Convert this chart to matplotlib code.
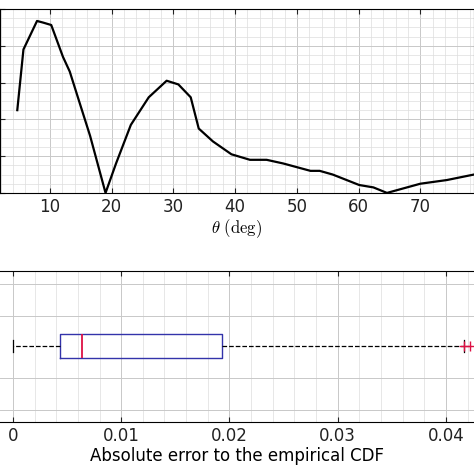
import numpy as np
import matplotlib
matplotlib.use("Agg")
import matplotlib.pyplot as plt
from matplotlib.ticker import MultipleLocator

plt.rcParams['mathtext.fontset'] = 'cm'

# top curve, normalised error vs theta
theta = [4.7, 5.7, 7.9, 8.9, 10.2, 12.1, 13.2, 14.8, 16.5, 19.0, 20.7, 23.1, 26.0,
         28.9, 30.8, 32.8, 34.1, 36.4, 39.4, 42.4, 45.1, 47.8, 52.2, 53.7, 55.8,
         60.1, 62.4, 64.6, 70.0, 74.3, 78.7]
err = [0.45, 0.78, 0.935, 0.926, 0.913, 0.74, 0.66, 0.49, 0.31, 0.0, 0.16, 0.37, 0.52,
       0.61, 0.59, 0.52, 0.35, 0.28, 0.21, 0.18, 0.18, 0.16, 0.12, 0.12, 0.10,
       0.043, 0.03, 0.0, 0.05, 0.07, 0.10]

# boxplot stats of absolute error
box_q1, box_med, box_q3 = 0.00434, 0.0064, 0.0193
whisk_lo, whisk_hi = 0.0, 0.0417
outliers = [0.0417, 0.0422]

fig = plt.figure(figsize=(4.74, 4.74), dpi=100)

ax1 = fig.add_axes([0.0, 0.593, 1.0, 0.388])
ax1.plot(theta, err, color='black', lw=1.6)
ax1.set_xlim(1.9, 78.7)
ax1.set_ylim(0, 1)
ax1.set_xticks([10, 20, 30, 40, 50, 60, 70])
ax1.xaxis.set_minor_locator(MultipleLocator(2))
ax1.set_yticks([0, 0.2, 0.4, 0.6, 0.8, 1.0])
ax1.yaxis.set_minor_locator(MultipleLocator(0.05))
ax1.set_yticklabels([])
ax1.grid(which='major', color='#c8c8c8', lw=0.7)
ax1.grid(which='minor', color='#dddddd', lw=0.5)
ax1.tick_params(direction='in', top=True, labelsize=12, colors='#222222')
ax1.tick_params(which='minor', length=0)
ax1.set_xlabel(r'$\theta\ \mathrm{(deg)}$', fontsize=12, labelpad=1)

ax2 = fig.add_axes([0.0, 0.11, 1.0, 0.319])
stats = [dict(med=box_med, q1=box_q1, q3=box_q3, whislo=whisk_lo, whishi=whisk_hi,
              fliers=outliers)]
ax2.bxp(stats, positions=[1], widths=0.16, vert=False,
        boxprops=dict(color='#3333aa', lw=1),
        medianprops=dict(color='#dd1144', lw=1.3),
        whiskerprops=dict(color='black', ls='--', lw=0.9),
        capprops=dict(color='black', lw=0.9), capwidths=0.08,
        flierprops=dict(marker='+', markeredgecolor='#dd1144', markersize=7))
ax2.set_xlim(-0.0012, 0.0426)
ax2.set_ylim(0.5, 1.5)
ax2.set_xticks([0, 0.01, 0.02, 0.03, 0.04])
ax2.set_xticklabels(['0', '0.01', '0.02', '0.03', '0.04'])
ax2.xaxis.set_minor_locator(MultipleLocator(0.002))
ax2.set_yticks([0.58, 0.79, 1.2, 1.41])
ax2.set_yticklabels([])
ax2.grid(which='major', color='#c8c8c8', lw=0.7)
ax2.grid(which='minor', axis='x', color='#dddddd', lw=0.5)
ax2.tick_params(direction='in', top=True, labelsize=12, colors='#222222')
ax2.tick_params(axis='y', length=0)
ax2.tick_params(which='minor', length=0)
ax2.set_xlabel('Absolute error to the empirical CDF', fontsize=12, labelpad=2)
for s in ['left', 'right']:
    ax2.spines[s].set_visible(False)

fig.savefig('out.png', dpi=100)
